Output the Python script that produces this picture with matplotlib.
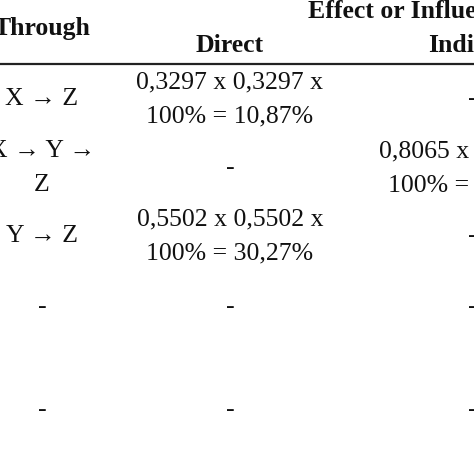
import matplotlib
matplotlib.use("Agg")
import matplotlib.pyplot as plt

W = H = 474
fig = plt.figure(figsize=(4.74, 4.74), dpi=100)
fig.patch.set_facecolor("white")
FONT = ["Liberation Serif", "DejaVu Serif"]

through = [["X → Z"], ["X → Y →", "Z"], ["Y → Z"], ["-"], ["-"]]
direct = [["0,3297 x 0,3297 x", "100% = 10,87%"], ["-"], ["0,5502 x 0,5502 x", "100% = 30,27%"], ["-"], ["-"]]
indirect = [["-"], ["0,8065 x 0,8065 x", "100% = 65,04%"], ["-"], ["-"], ["-"]]
row_y = [99, 168, 236, 307, 410]
col_x = [42, 230, 472]
fs = 18.5

def t(x, y, s, bold=False, ha="center"):
    fig.text(x / W, 1 - y / H, s, ha=ha, va="center", fontsize=fs,
             family=FONT, weight="bold" if bold else "normal", color="#111111")

t(42, 28, "Through", bold=True)
t(308, 12, "Effect or Influence", bold=True, ha="left")
t(230, 45, "Direct", bold=True)
t(472, 45, "Indirect", bold=True)
fig.add_artist(plt.Line2D([0, 1], [1 - 64 / H] * 2, color="#222222", lw=1.6))

for cells_col, x in zip([through, direct, indirect], col_x):
    for cell, y in zip(cells_col, row_y):
        n = len(cell)
        for i, s in enumerate(cell):
            t(x, y + (i - (n - 1) / 2) * 34, s)

fig.savefig("out.png", dpi=100)
